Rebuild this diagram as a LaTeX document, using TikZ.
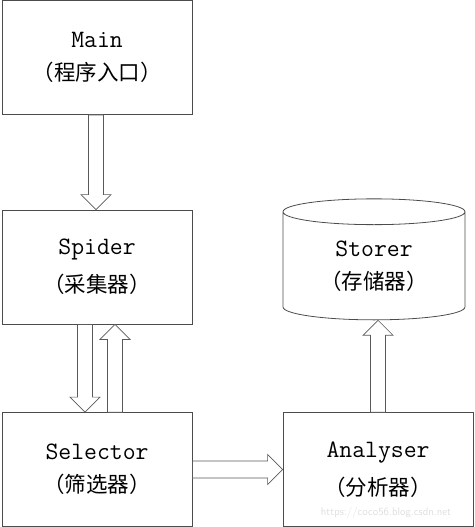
\documentclass[tikz,border=0pt]{standalone}
\usepackage{fontspec}
\newfontfamily\cjk{Noto Sans CJK SC}
\usetikzlibrary{shapes.geometric, calc}

\newcommand{\lat}{\fontsize{25}{30}\ttfamily\selectfont}
\newcommand{\zh}{\fontsize{21.5}{30}\cjk}

% hollow block arrows, tip lands on the second anchor
\newcommand{\vblock}[3]{%
  \draw[hollow] let \p1=([xshift=#3]#1), \p2=(#2), \n1={sign(\y2-\y1)} in
    (\x1-7.5pt,\y1) -- (\x1-7.5pt,\y2-\n1*15pt) -- (\x1-15pt,\y2-\n1*15pt) -- (\x1,\y2)
    -- (\x1+15pt,\y2-\n1*15pt) -- (\x1+7.5pt,\y2-\n1*15pt) -- (\x1+7.5pt,\y1) -- cycle;}
\newcommand{\hblock}[2]{%
  \draw[hollow] let \p1=(#1), \p2=(#2), \n1={sign(\x2-\x1)} in
    (\x1,\y1+8.5pt) -- (\x2-\n1*15pt,\y1+8.5pt) -- (\x2-\n1*15pt,\y1+15pt) -- (\x2,\y1)
    -- (\x2-\n1*15pt,\y1-15pt) -- (\x2-\n1*15pt,\y1-8.5pt) -- (\x1,\y1-8.5pt) -- cycle;}

\begin{document}
\begin{tikzpicture}[x=1pt,y=-1pt,
  box/.style={draw=black!70, line width=0.8pt, minimum width=190pt, minimum height=114pt, inner sep=0pt, align=center},
  store/.style={cylinder, shape border rotate=90, draw=black!70, line width=0.8pt, aspect=0.24, minimum width=182pt, minimum height=121pt, inner sep=0pt, align=center},
  hollow/.style={draw=black!65, line width=0.7pt, fill=white}]
\useasboundingbox (0,0) rectangle (474,527);

\node[box] (main) at (97,57.5) {\lat Main\\[13pt]\zh （程序入口）};
\node[box] (spider) at (97,267) {\lat Spider\\[13pt]\zh （采集器）};
\node[box] (selector) at (97,469.5) {\lat Selector\\[13pt]\zh （筛选器）};
\node[box] (analyser) at (378,469.5) {\lat Analyser\\[13pt]\zh （分析器）};
\node[store] (storer) at (374,266) {\lat Storer\\[13pt]\zh （存储器）};

\vblock{main.south}{spider.north}{-1pt}
\vblock{spider.south}{selector.north}{-12pt}
\vblock{selector.north}{spider.south}{18pt}
\hblock{selector.east}{analyser.west}
\vblock{analyser.north}{storer.south}{0pt}

\node[font=\sffamily\fontsize{11}{12}\selectfont, text=black!13] (mark) at (386,513) {https://coco56.blog.csdn.net};
\end{tikzpicture}
\end{document}
